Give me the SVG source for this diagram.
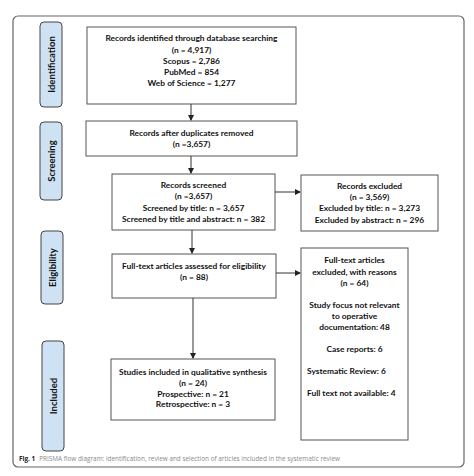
<svg xmlns="http://www.w3.org/2000/svg" width="474" height="476" viewBox="0 0 474 476">
<defs>
<marker id="ah" markerWidth="6" markerHeight="6" refX="5" refY="3" orient="auto" markerUnits="userSpaceOnUse">
<path d="M0,0 L6,3 L0,6 z" fill="#222"/>
</marker>
<style>
.box{fill:#fff;stroke:#555;stroke-width:1}
.side{fill:#cfe2f3;stroke:#444;stroke-width:1}
.t{font-family:Lato,"Liberation Sans",sans-serif;font-weight:bold;font-size:8.4px;fill:#111;text-anchor:middle}
.tl{text-anchor:start}
.s{font-family:Lato,"Liberation Sans",sans-serif;font-weight:bold;font-size:9.5px;fill:#111;text-anchor:middle}
.c{stroke:#333;stroke-width:1;fill:none}
</style>
</defs>
<rect x="0" y="0" width="474" height="476" fill="#fff"/>
<rect x="13" y="16" width="451" height="451" rx="5" fill="none" stroke="#666" stroke-width="1.2"/>

<g id="side-identification"><rect class="side" x="40" y="22" width="22" height="85" rx="4"/><text class="s" transform="translate(54.5,64.5) rotate(-90)">Identification</text></g>
<g id="side-screening"><rect class="side" x="40" y="122" width="22" height="78" rx="4"/><text class="s" transform="translate(54.5,161) rotate(-90)">Screening</text></g>
<g id="side-eligibility"><rect class="side" x="41" y="231" width="22" height="73" rx="4"/><text class="s" transform="translate(55.5,267.5) rotate(-90)">Eligibility</text></g>
<g id="side-included"><rect class="side" x="42" y="341" width="22" height="110" rx="4"/><text class="s" transform="translate(56.5,396) rotate(-90)">Included</text></g>

<g id="identified"><rect class="box" x="87" y="27" width="209" height="77"/>
<text class="t" x="191.5" y="41">Records identified through database searching</text>
<text class="t" x="191.5" y="53">(n = 4,917)</text>
<text class="t" x="191.5" y="64">Scopus = 2,786</text>
<text class="t" x="191.5" y="75">PubMed = 854</text>
<text class="t" x="191.5" y="86">Web of Science = 1,277</text></g>

<g id="duplicates"><rect class="box" x="86" y="121" width="211" height="35"/>
<text class="t" x="191.5" y="136">Records after duplicates removed</text>
<text class="t" x="191.5" y="147">(n =3,657)</text></g>

<g id="screened"><rect class="box" x="112" y="174" width="163" height="56"/>
<text class="t" x="193.5" y="188">Records screened</text>
<text class="t" x="193.5" y="199">(n =3,657)</text>
<text class="t" x="193.5" y="210.5">Screened by title: n = 3,657</text>
<text class="t" x="193.5" y="222">Screened by title and abstract: n = 382</text></g>

<g id="excluded"><rect class="box" x="301" y="175" width="137" height="56"/>
<text class="t" x="369.5" y="189">Records excluded</text>
<text class="t" x="369.5" y="199.5">(n = 3,569)</text>
<text class="t" x="369.5" y="211">Excluded by title: n = 3,273</text>
<text class="t" x="369.5" y="223">Excluded by abstract: n = 296</text></g>

<g id="fulltext"><rect class="box" x="112" y="254" width="164" height="44"/>
<text class="t" x="194" y="269">Full-text articles assessed for eligibility</text>
<text class="t" x="194" y="280">(n = 88)</text></g>

<g id="fulltext-excluded"><rect class="box" x="301" y="248" width="107" height="192"/>
<text class="t" x="354.5" y="263">Full-text articles</text>
<text class="t" x="354.5" y="275">excluded, with reasons</text>
<text class="t" x="354.5" y="285.5">(n = 64)</text>
<text class="t" x="354.5" y="308">Study focus not relevant</text>
<text class="t" x="354.5" y="319">to operative</text>
<text class="t" x="354.5" y="329.5">documentation: 48</text>
<text class="t" x="354.5" y="352">Case reports: 6</text>
<text class="t tl" x="307" y="374">Systematic Review: 6</text>
<text class="t tl" x="307" y="396">Full text not available: 4</text></g>

<g id="included"><rect class="box" x="111" y="359" width="164" height="61"/>
<text class="t" x="193" y="375">Studies included in qualitative synthesis</text>
<text class="t" x="193" y="386">(n = 24)</text>
<text class="t" x="193" y="397">Prospective: n = 21</text>
<text class="t" x="193" y="407">Retrospective: n = 3</text></g>

<g id="connectors">
<line class="c" x1="191" y1="104" x2="191" y2="120" marker-end="url(#ah)"/>
<line class="c" x1="191" y1="156" x2="191" y2="173" marker-end="url(#ah)"/>
<line class="c" x1="192" y1="230" x2="192" y2="253" marker-end="url(#ah)"/>
<line class="c" x1="193" y1="298" x2="193" y2="358" marker-end="url(#ah)"/>
<line class="c" x1="275" y1="192" x2="300" y2="192" marker-end="url(#ah)"/>
<line class="c" x1="276" y1="273" x2="300" y2="273" marker-end="url(#ah)"/>
</g>

<g id="caption">
<text x="19" y="461" font-family="'Open Sans','Liberation Sans',sans-serif" font-size="6.4px" fill="#222"><tspan font-weight="bold">Fig. 1</tspan><tspan fill="#8a8a8a" dx="4">PRISMA flow diagram: identification, review and selection of articles included in the systematic review</tspan></text>
</g>
</svg>
